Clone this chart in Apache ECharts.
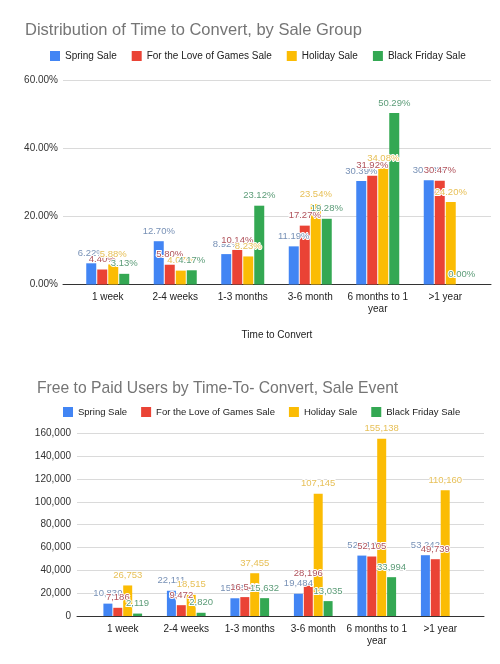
<!DOCTYPE html>
<html>
<head>
<meta charset="utf-8">
<script src="https://cdn.jsdelivr.net/npm/echarts@6/dist/echarts.min.js"></script>
<style>
html,body{margin:0;padding:0;background:#fff;}
#chart{width:500px;height:664px;}
</style>
</head>
<body>
<div id="chart"></div>
<script>
// ---- data ----
var categories = ['1 week', '2-4 weeks', '1-3 months', '3-6 month', '6 months to 1 year', '>1 year'];
var seriesNames = ['Spring Sale', 'For the Love of Games Sale', 'Holiday Sale', 'Black Friday Sale'];

// Chart 1: share of converters (%)
var pctSpring      = [6.22, 12.70, 8.92, 11.19, 30.39, 30.58];
var pctLove        = [4.40, 5.80, 10.14, 17.27, 31.92, 30.47];
var pctHoliday     = [5.88, 4.07, 8.23, 23.54, 34.08, 24.20];
var pctBlackFriday = [3.13, 4.17, 23.12, 19.28, 50.29, 0.00];

// Chart 2: free-to-paid users
var usersSpring      = [10830, 22111, 15531, 19484, 52912, 53242];
var usersLove        = [7186, 9472, 16549, 28196, 52105, 49739];
var usersHoliday     = [26753, 18515, 37455, 107145, 155138, 110160];
var usersBlackFriday = [2119, 2820, 15632, 13035, 33994, null];

var pctTicks = [0, 20, 60];      // min, interval, max
var userTicks = [0, 20000, 160000];

// ---- styles ----
var colors = ['#4285F4', '#EA4335', '#FBBC04', '#34A853'];
var labelColors = ['#7891b6', '#b0525b', '#e7c058', '#5c9c78'];
var FONT = 'Arial, "Liberation Sans", Helvetica, sans-serif';

function catLabel(v) { return v === '6 months to 1 year' ? '6 months to 1\nyear' : v; }
function pctFmt(v) { return v.toFixed(2) + '%'; }
function numFmt(v) { return Number(v).toLocaleString('en-US'); }

function makeSeries(data, i, axisIdx, fmt, bw) {
  return {
    name: seriesNames[i],
    type: 'bar',
    xAxisIndex: axisIdx,
    yAxisIndex: axisIdx,
    data: data,
    barWidth: bw,
    barGap: '10%',
    itemStyle: { color: colors[i] },
    label: {
      show: true,
      position: 'top',
      distance: 5,
      fontFamily: FONT,
      fontSize: 9.5,
      color: labelColors[i],
      textBorderColor: '#fff',
      textBorderWidth: 2,
      formatter: function (p) { return p.value == null ? '' : fmt(p.value); }
    }
  };
}

var chart = echarts.init(document.getElementById('chart'), null, { renderer: 'canvas' });

var legendBase = {
  data: seriesNames,
  icon: 'rect',
  itemWidth: 10,
  itemHeight: 10,
  padding: 0
};

var option = {
  animation: false,
  backgroundColor: '#fff',
  color: colors,
  title: [
    { text: 'Distribution of Time to Convert, by Sale Group', left: 20, top: 17,
      textStyle: { fontFamily: FONT, fontSize: 16.5, fontWeight: 'normal', color: '#757575' } },
    { text: 'Free to Paid Users by Time-To- Convert, Sale Event', left: 32, top: 376,
      textStyle: { fontFamily: FONT, fontSize: 15.7, fontWeight: 'normal', color: '#757575' } }
  ],
  legend: [
    Object.assign({}, legendBase, { top: 51, left: 50, itemGap: 15, textStyle: { fontFamily: FONT, fontSize: 10, color: '#222' } }),
    Object.assign({}, legendBase, { top: 407, left: 63, itemGap: 14, textStyle: { fontFamily: FONT, fontSize: 9.5, color: '#222' } })
  ],
  grid: [
    { left: 63, right: 9, top: 80, bottom: 379.5 },
    { left: 74, right: 21, top: 80, bottom: 379.5 },
    { left: 77, right: 16, top: 433.3, bottom: 48 },
    { left: 91, right: 28, top: 433.3, bottom: 48 }
  ],
  xAxis: [
    { gridIndex: 0, type: 'value', min: 0, max: 1, axisLabel: { show: false }, axisTick: { show: false },
      splitLine: { show: false }, axisLine: { show: true, lineStyle: { color: '#333', width: 1 } },
      name: 'Time to Convert', nameLocation: 'middle', nameGap: 46,
      nameTextStyle: { fontFamily: FONT, fontSize: 10, color: '#222' } },
    { gridIndex: 1, type: 'category', data: categories, axisLine: { show: false }, axisTick: { show: false },
      axisLabel: { fontFamily: FONT, fontSize: 10, color: '#222', margin: 7, lineHeight: 12, interval: 0, formatter: catLabel } },
    { gridIndex: 2, type: 'value', min: 0, max: 1, axisLabel: { show: false }, axisTick: { show: false },
      splitLine: { show: false }, axisLine: { show: true, lineStyle: { color: '#333', width: 1 } } },
    { gridIndex: 3, type: 'category', data: categories, axisLine: { show: false }, axisTick: { show: false },
      axisLabel: { fontFamily: FONT, fontSize: 10, color: '#222', margin: 7, lineHeight: 12, interval: 0, formatter: catLabel } }
  ],
  yAxis: [
    { gridIndex: 0, type: 'value', min: pctTicks[0], max: pctTicks[2], interval: pctTicks[1],
      axisLine: { show: false }, axisTick: { show: false },
      axisLabel: { fontFamily: FONT, fontSize: 10, color: '#333', margin: 5, formatter: pctFmt },
      splitLine: { lineStyle: { color: '#dadada', width: 1 } } },
    { gridIndex: 1, type: 'value', min: pctTicks[0], max: pctTicks[2], interval: pctTicks[1], show: false,
      splitLine: { show: false } },
    { gridIndex: 2, type: 'value', min: userTicks[0], max: userTicks[2], interval: userTicks[1],
      axisLine: { show: false }, axisTick: { show: false },
      axisLabel: { fontFamily: FONT, fontSize: 10, color: '#333', margin: 6, formatter: numFmt },
      splitLine: { lineStyle: { color: '#dadada', width: 1 } } },
    { gridIndex: 3, type: 'value', min: userTicks[0], max: userTicks[2], interval: userTicks[1], show: false,
      splitLine: { show: false } }
  ],
  series: [
    makeSeries(pctSpring, 0, 1, pctFmt, 10),
    makeSeries(pctLove, 1, 1, pctFmt, 10),
    makeSeries(pctHoliday, 2, 1, pctFmt, 10),
    makeSeries(pctBlackFriday, 3, 1, pctFmt, 10),
    makeSeries(usersSpring, 0, 3, numFmt, 9),
    makeSeries(usersLove, 1, 3, numFmt, 9),
    makeSeries(usersHoliday, 2, 3, numFmt, 9),
    makeSeries(usersBlackFriday, 3, 3, numFmt, 9)
  ]
};
chart.setOption(option);
</script>
</body>
</html>
